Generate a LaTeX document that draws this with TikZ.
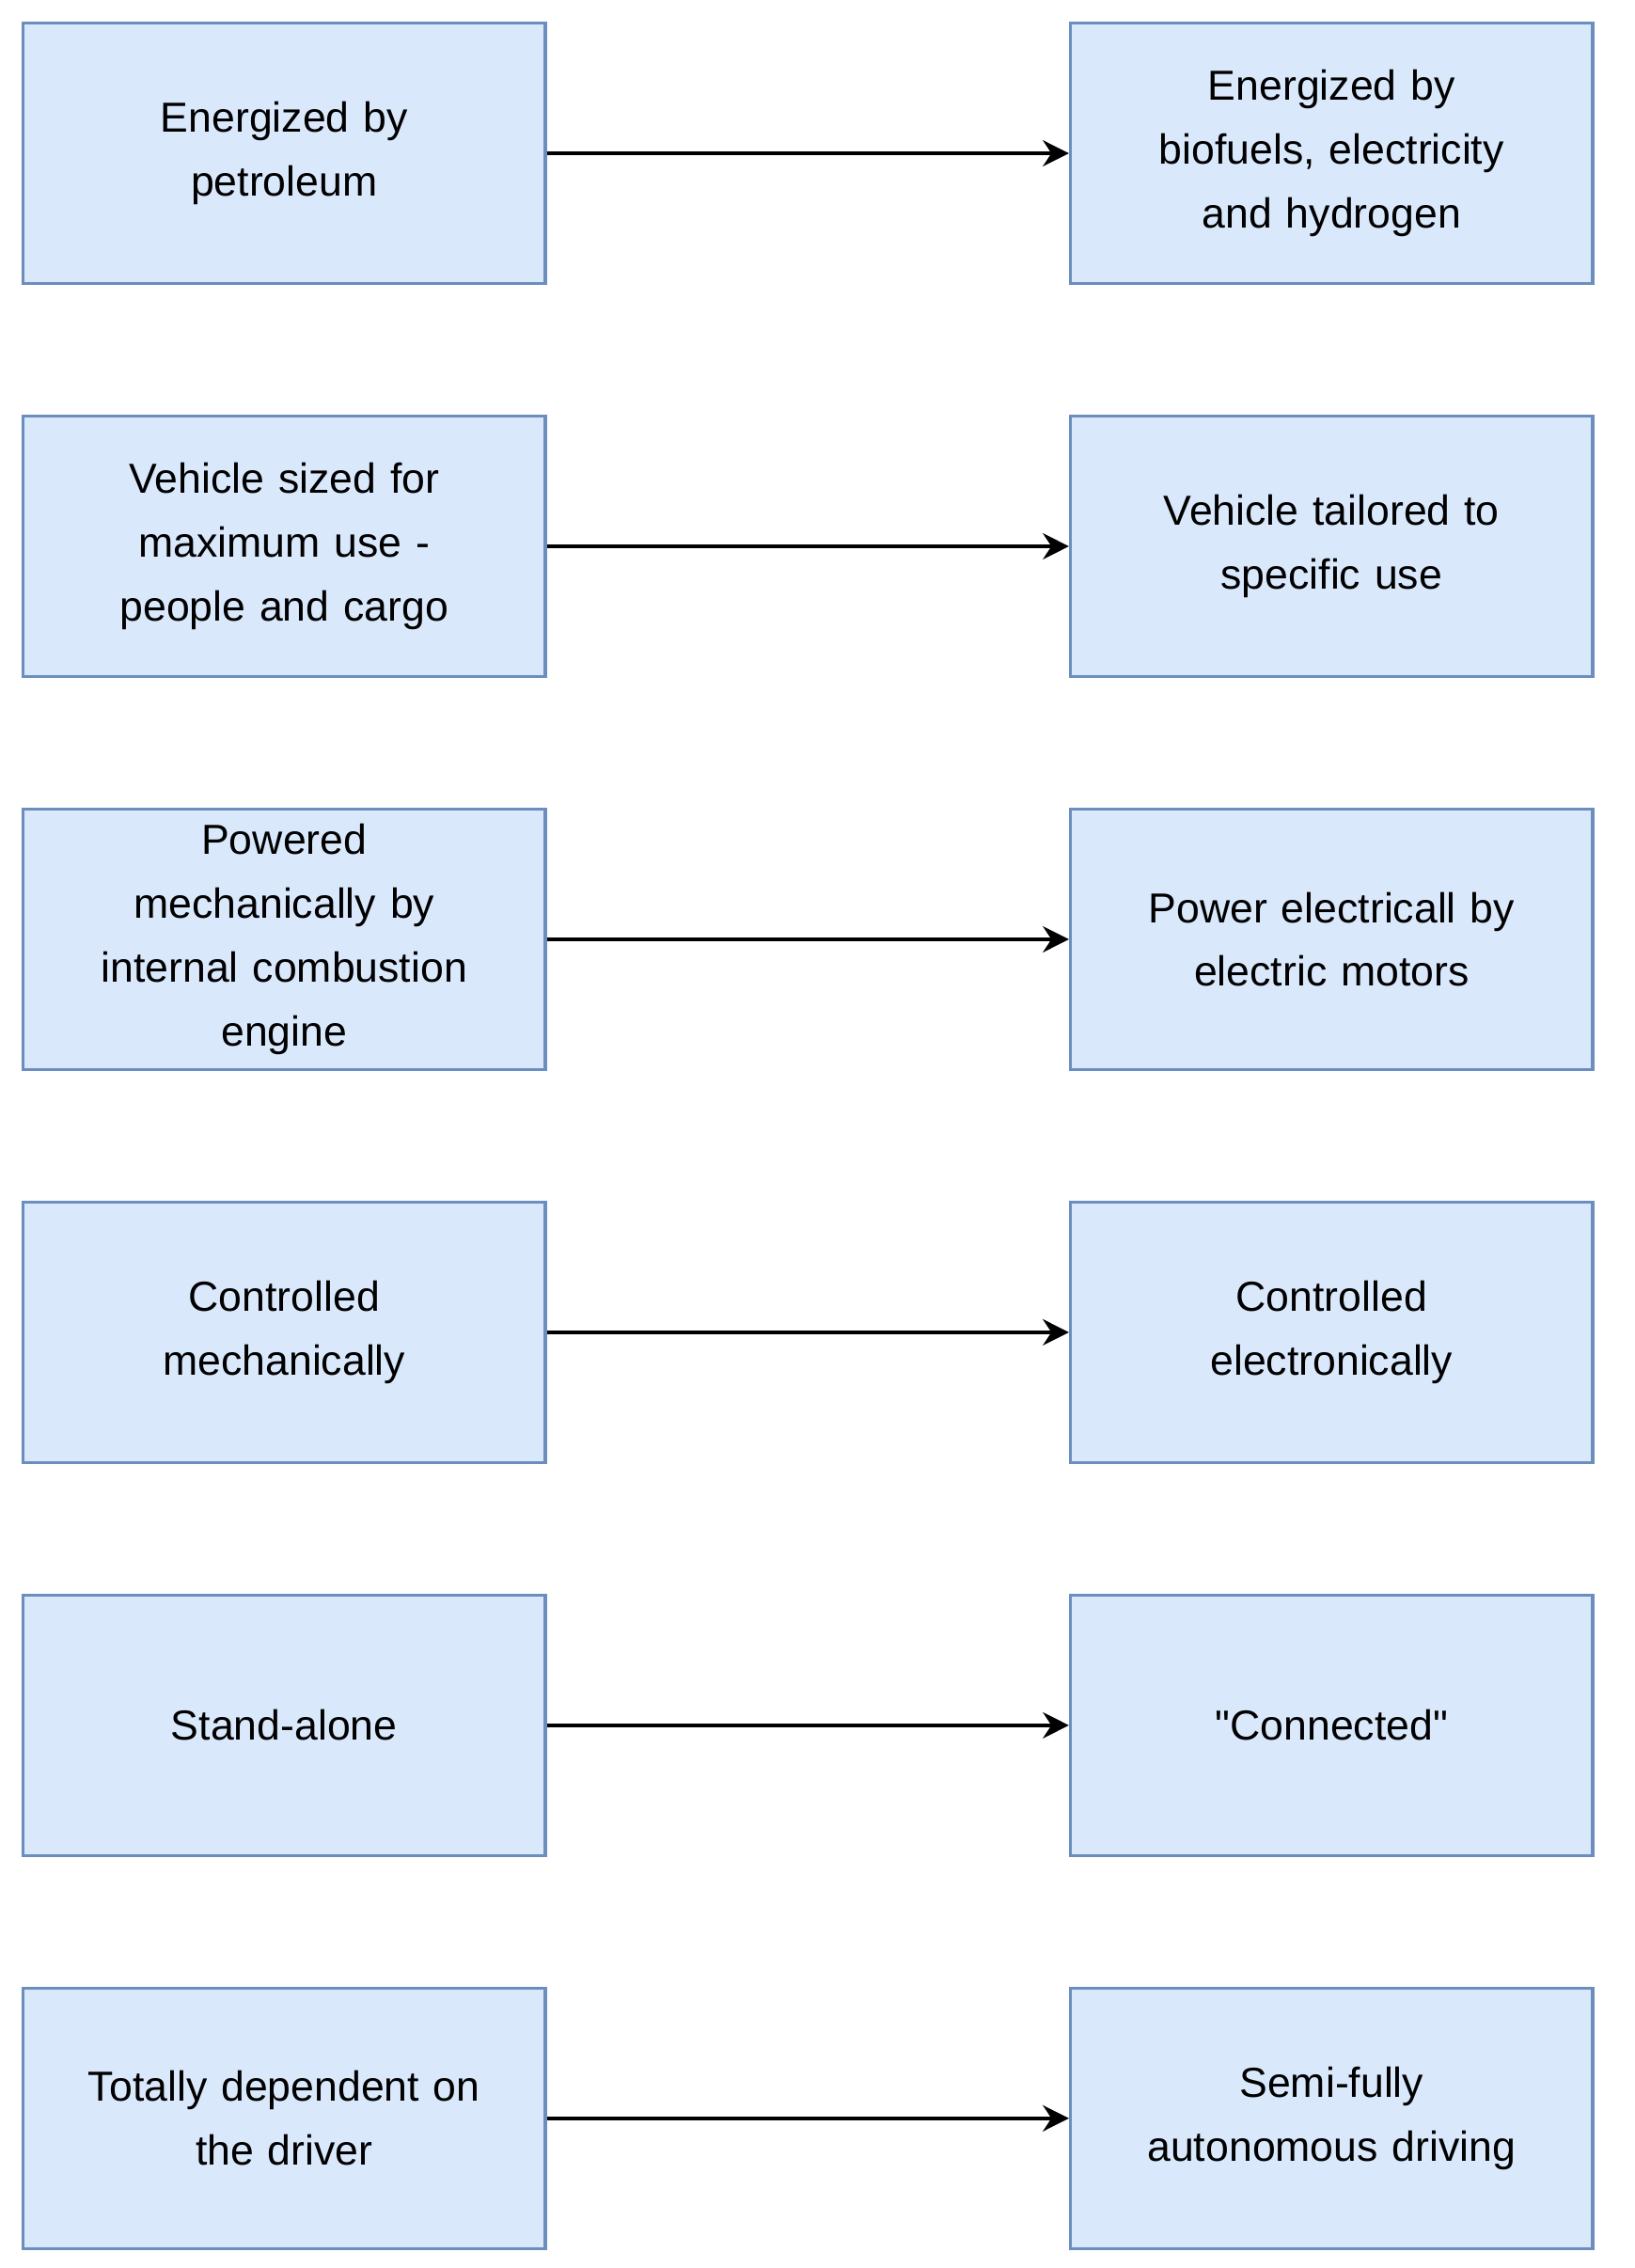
\documentclass[tikz,border=0pt]{standalone}
\usepackage{fontspec}
\setmainfont{Liberation Sans}
\usetikzlibrary{arrows.meta, positioning}
\definecolor{boxfill}{HTML}{DAE8FC}
\definecolor{boxline}{HTML}{6C8EBF}
\begin{document}
\begin{tikzpicture}[
            x = 1pt, y = -1pt,
            node distance = 89.5pt and 361pt,
            line width = 2.2pt
        ]

        \tikzstyle{box}=[
            draw = boxline,
            fill = boxfill,
            minimum width = 361pt,
            minimum height = 180pt,
            align = center,
            text width = 350pt,
            font = \fontsize{29}{44}\selectfont
        ]

        \useasboundingbox (0, 0) rectangle (1130, 1568);

        \node[box] (L1) at (196.5, 106) {Energized by\\petroleum};
        \node[box] (L2) [below=of L1] {Vehicle sized for\\maximum use -\\people and cargo};
        \node[box] (L3) [below=of L2] {Powered\\mechanically by\\internal combustion\\engine};
        \node[box] (L4) [below=of L3] {Controlled\\mechanically};
        \node[box] (L5) [below=of L4] {Stand-alone};
        \node[box] (L6) [below=of L5] {Totally dependent on\\the driver};

        \node[box] (R1) [right=of L1] {Energized by\\biofuels, electricity\\and hydrogen};
        \node[box] (R2) [right=of L2] {Vehicle tailored to\\specific use};
        \node[box] (R3) [right=of L3] {Power electricall by\\electric motors};
        \node[box] (R4) [right=of L4] {Controlled\\electronically};
        \node[box] (R5) [right=of L5] {\textquotedbl Connected\textquotedbl};
        \node[box] (R6) [right=of L6] {Semi-fully\\autonomous driving};

        \foreach \i in {1,...,6}
            \draw[-{Stealth[length=18pt, width=18pt]}, black, line width = 2.5pt] (L\i) -- (R\i);
    \end{tikzpicture}
\end{document}
